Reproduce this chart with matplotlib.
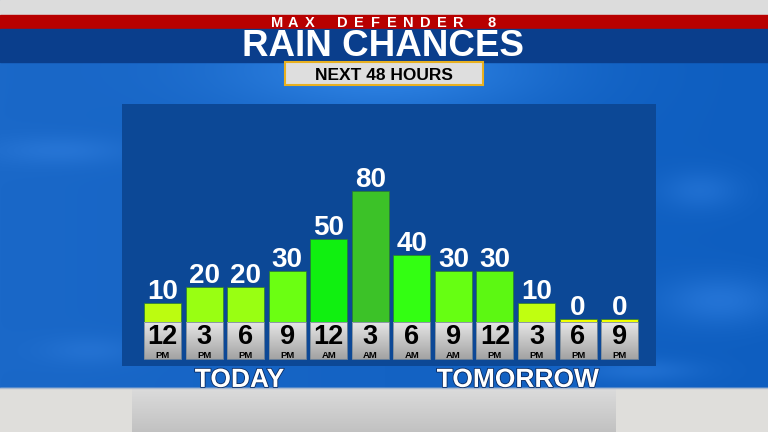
import matplotlib
matplotlib.use("Agg")
import matplotlib.pyplot as plt
import matplotlib.patheffects as pe
from matplotlib.patches import Rectangle
import numpy as np

FONT = 'Liberation Sans'
plt.rcParams['font.family'] = [FONT, 'DejaVu Sans']

# data
hours = ['12', '3', '6', '9', '12', '3', '6', '9', '12', '3', '6', '9']
ampm = ['PM', 'PM', 'PM', 'PM', 'AM', 'AM', 'AM', 'AM', 'PM', 'PM', 'PM', 'PM']
chances = [10, 20, 20, 30, 50, 80, 40, 30, 30, 10, 0, 0]
day_labels = ['TODAY', 'TOMORROW']
day_centers = [1.85, 8.55]   # position along the bar axis

# styles
BAR_COLORS = ['#bcfc10', '#99ff12', '#99ff12', '#6bff12', '#10f010', '#3cc228',
              '#33ff12', '#66ff12', '#5cf812', '#c0ff10', '#f0ff00', '#f0ff00']
PANEL = '#0c4896'
BASE_OFF = 1.875


def sky_background(w=768, h=432):
    yy, xx = np.mgrid[0:h, 0:w].astype(float)
    left = np.array([0x1a, 0x68, 0xc8]) / 255.0
    right = np.array([0x0e, 0x5e, 0xc0]) / 255.0
    t = (xx / w)[..., None]
    img = left * (1 - t) + right * t
    # glow behind the title
    glow = np.exp(-(((xx - 384) / 160.0) ** 2 + ((yy - 70) / 45.0) ** 2))
    img = img + glow[..., None] * np.array([0.10, 0.12, 0.12])
    # faint clouds
    for cx, cy, sx, sy, a in [(720, 300, 60, 25, 0.08), (60, 150, 70, 15, 0.05),
                              (700, 190, 40, 20, 0.06), (90, 350, 50, 15, 0.04),
                              (640, 370, 60, 12, 0.06)]:
        c = np.exp(-(((xx - cx) / sx) ** 2 + ((yy - cy) / sy) ** 2))
        img = img + a * c[..., None]
    return np.clip(img, 0, 1)


def draw_figure(filename):
    fig = plt.figure(figsize=(7.68, 4.32), dpi=100)

    bg = fig.add_axes([0, 0, 1, 1])
    bg.set_xlim(0, 768)
    bg.set_ylim(432, 0)
    bg.axis('off')
    bg.imshow(sky_background(), extent=(0, 768, 432, 0), aspect='auto', zorder=0)

    # header bands
    bg.add_patch(Rectangle((0, 0), 768, 15, color='#dcdcdc', zorder=1))
    bg.add_patch(Rectangle((0, 15), 768, 14, color='#b80000', zorder=1))
    bg.add_patch(Rectangle((0, 29), 768, 33, color='#0a3e8c', zorder=1))
    # bottom floor
    bg.add_patch(Rectangle((0, 388), 768, 44, color='#dfdedb', zorder=1))
    floor = np.linspace(0.86, 0.76, 44)[:, None, None] * np.ones((44, 10, 3))
    bg.imshow(floor, extent=(132, 616, 432, 388), aspect='auto', zorder=1.5)
    bg.axhline(388, color='#a9b9d0', lw=1, zorder=2)

    title = 'MAX DEFENDER 8'
    pitch = 16.5
    x0 = 384 - pitch * (len(title) - 1) / 2
    for i, ch in enumerate(title):
        if ch != ' ':
            bg.text(x0 + i * pitch, 27, ch, color='white', fontsize=10.5,
                    fontweight='bold', ha='center', va='baseline', zorder=3)

    bg.text(383, 56, 'RAIN CHANCES', color='white', fontsize=26.5,
            fontweight='bold', ha='center', va='baseline', zorder=3)

    bg.add_patch(Rectangle((285, 62), 198, 23, facecolor='#dedede',
                           edgecolor='#e8b020', lw=1.5, zorder=3))
    bg.text(384, 80, 'NEXT 48 HOURS', color='black', fontsize=12.5,
            fontweight='bold', ha='center', va='baseline', zorder=4)

    # chart panel
    ax = fig.add_axes([122 / 768, (432 - 366) / 432, 534 / 768, 262 / 432])
    ax.set_facecolor(PANEL)
    for s in ax.spines.values():
        s.set_visible(False)
    ax.set_xticks([])
    ax.set_yticks([])

    x = np.arange(len(chances))
    vals = np.array(chances, dtype=float)
    width = 0.89
    ax.bar(x, vals + BASE_OFF, bottom=-BASE_OFF, width=width,
           color=BAR_COLORS, edgecolor='#2a7a30', linewidth=0.5, zorder=2)

    grad = np.linspace(0.90, 0.64, 50)[:, None, None] * np.ones((50, 4, 3))
    for i, v in enumerate(chances):
        ax.text(i, v + 2.2, str(v), color='white', fontsize=20, fontweight='bold',
                ha='center', va='baseline', zorder=4)
        ax.imshow(grad, extent=(i - width / 2, i + width / 2, -25, -BASE_OFF),
                  aspect='auto', zorder=3)
        ax.add_patch(Rectangle((i - width / 2, -25), width, 25 - BASE_OFF,
                               fill=False, edgecolor='#7a8a9a', lw=0.6, zorder=3.5))
        ax.text(i, -15.6, hours[i], color='black', fontsize=19.5, fontweight='bold',
                ha='center', va='baseline', zorder=4)
        ax.text(i, -24.3, ampm[i], color='black', fontsize=6.8, fontweight='bold',
                ha='center', va='baseline', zorder=4)

    ax.set_xlim(-0.975, 11.877)
    ax.set_ylim(-29.4, 134.4)

    # day labels under the panel
    for lab, c in zip(day_labels, day_centers):
        t = ax.text(c, -42.5, lab, color='white', fontsize=19, fontweight='bold',
                    ha='center', va='baseline', clip_on=False, zorder=5)
        t.set_path_effects([pe.withStroke(linewidth=1.2, foreground='#0a2a60')])

    fig.savefig(filename, dpi=100)


if __name__ == "__main__":
    draw_figure("out.png")
